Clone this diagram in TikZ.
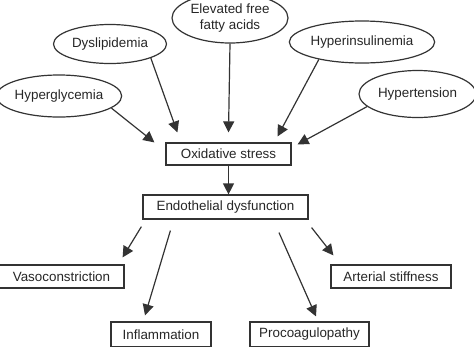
\documentclass[tikz,border=0pt]{standalone}
\usepackage{fontspec}
\setmainfont{Liberation Sans}
\usetikzlibrary{arrows.meta, shapes.geometric, calc}
\definecolor{linegray}{HTML}{333333}
\definecolor{textgray}{HTML}{262626}
\tikzset{
  cause/.style={ellipse, draw=linegray, line width=1.2pt, inner sep=0pt, text=textgray, align=center},
  effect/.style={rectangle, draw=linegray, line width=1.2pt, inner sep=0pt, minimum height=23pt, text=textgray},
  arr/.style={draw=linegray, line width=1.2pt, -{Triangle[length=11pt,width=11pt]}},
}

\begin{document}
\begin{tikzpicture}[x=1pt, y=-1pt, font=\fontsize{13.4}{16}\selectfont]
  \useasboundingbox (0,0) rectangle (474,346);
  % Risk factors
  \node[cause, minimum width=122pt, minimum height=42pt] (hg) at (59,96) {Hyperglycemia};
  \node[cause, minimum width=113pt, minimum height=39pt] (dl) at (110,44) {Dyslipidemia};
  \node[cause, minimum width=116pt, minimum height=50pt] (ef) at (230,18) {Elevated free\\fatty acids};
  \node[cause, minimum width=139pt, minimum height=42pt] (hi) at (362,42) {Hyperinsulinemia};
  \node[cause, minimum width=117pt, minimum height=47pt] (ht) at (417.5,94) {Hypertension};
  % Central chain
  \node[effect, minimum width=125pt, minimum height=22pt] (ox) at (228.5,154) {Oxidative stress};
  \node[effect, minimum width=165pt, minimum height=24pt] (en) at (225.5,207) {Endothelial dysfunction};
  % Consequences
  \node[effect, minimum width=125pt] (va) at (61.5,276.5) {Vasoconstriction};
  \node[effect, minimum width=100pt, minimum height=25pt] (in) at (161,334.5) {Inflammation};
  \node[effect, minimum width=119pt, minimum height=25pt] (pr) at (309.5,334.5) {Procoagulopathy};
  \node[effect, minimum width=120pt] (ar) at (391,276.5) {Arterial stiffness};
  % Arrows into oxidative stress
  \draw[arr] (hg.-13) -- ($(ox.north west)+(-11,0)$);
  \draw[arr] (dl.-19) -- ($(ox.north west)+(12,-10)$);
  \draw[arr] (ef.south) -- ($(ox.north)+(0,-10)$);
  \draw[arr] (hi.-158) -- ($(ox.north east)+(-14,-6)$);
  \draw[arr] (ht.-166) -- ($(ox.north east)+(6,2)$);
  \draw[arr] (ox.south) -- (ox.south |- en.north);
  % Arrows out of endothelial dysfunction
  \draw[arr] ($(en.south west)+(-1,7)$) -- ($(va.north east)+(-2,-7)$);
  \draw[arr] ($(en.south west)+(28,11)$) -- ($(in.north)+(-16,-6)$);
  \draw[arr] ($(en.south)+(53.5,13)$) -- ($(pr.north)+(6.5,-5)$);
  \draw[arr] ($(en.south east)+(3,8)$) -- ($(ar.north west)+(3,-9)$);
\end{tikzpicture}
\end{document}
